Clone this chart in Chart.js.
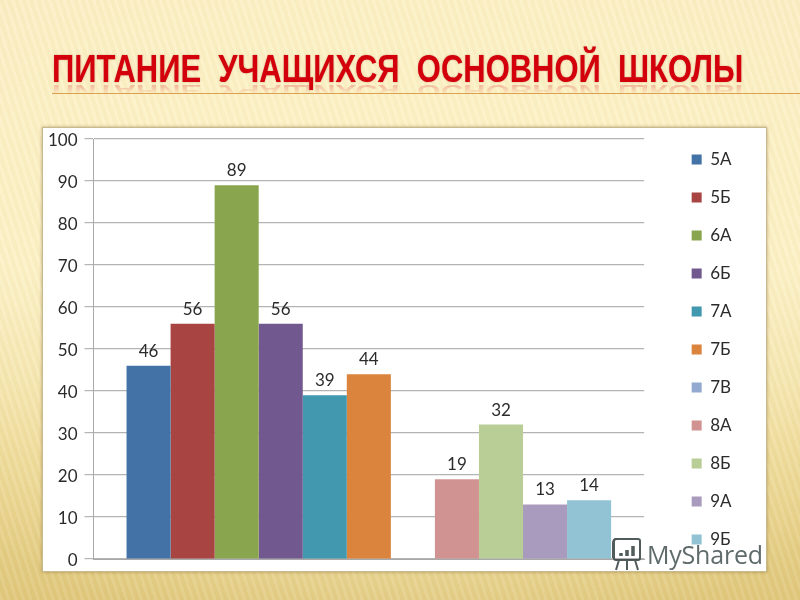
<!DOCTYPE html>
<html><head><meta charset="utf-8">
<style>
html,body{margin:0;padding:0;width:800px;height:600px;overflow:hidden}
body{position:relative;font-family:"Liberation Sans",sans-serif;
background:
 repeating-linear-gradient(72deg,rgba(255,255,255,.08) 0 3px,rgba(150,110,20,.03) 3px 7px),
 radial-gradient(ellipse 620px 420px at 400px 230px,rgba(253,243,200,.7) 40%,rgba(253,243,200,0) 100%),
 linear-gradient(180deg,#fbeec4 0,#fbf0c6 45%,#ecd792 75%,#e0c87d 100%);}
#panel{position:absolute;left:42px;top:127px;width:725px;height:445px;background:#fff;border:1px solid #c9b98f;box-sizing:border-box;box-shadow:0 0 3px rgba(120,90,30,.5)}
#rule{position:absolute;left:52px;top:93px;width:748px;height:1px;background:#dca24e}
.t{position:absolute;left:52px;top:46px;font-size:39px;line-height:45px;font-weight:bold;color:#d3000c;white-space:pre;transform-origin:0 0;transform:scaleX(.794);text-shadow:0 0 2px rgba(120,0,0,.35)}
#refl{opacity:.25;transform:scale(.794,-.42);transform-origin:0 38px;-webkit-mask-image:linear-gradient(0deg,#000 15%,transparent 70%);text-shadow:none}
canvas{position:absolute;left:0;top:0}
#wm{position:absolute;left:611px;top:536px;display:flex;align-items:center;color:#4e5a5a;font-family:"Open Sans",sans-serif;font-size:25px;line-height:36px;letter-spacing:-.2px;opacity:.9}
</style></head><body>
<div id="rule"></div>
<div class="t" id="title">ПИТАНИЕ  УЧАЩИХСЯ  ОСНОВНОЙ  ШКОЛЫ</div>
<div class="t" id="refl" aria-hidden="true">ПИТАНИЕ  УЧАЩИХСЯ  ОСНОВНОЙ  ШКОЛЫ</div>
<div id="panel"></div>
<canvas id="c" width="800" height="600"></canvas>
<div id="wm"><svg width="30" height="36" viewBox="0 0 30 36" fill="none" stroke="#3f4a4a" stroke-width="2"><rect x="3" y="3" width="26" height="21" rx="2"/><path d="M2 22V7q0-4 4-4M8 24l-3 10M16 24v10M24 24l3 10"/><path d="M10 20v-3M16 20v-6M22 20v-10" stroke-width="3.5"/></svg><span style="margin-left:6px">MyShared</span></div>
<script src="https://cdn.jsdelivr.net/npm/chart.js@4/dist/chart.umd.min.js"></script>
<script>
const categories=[''];
const seriesNames=['5А','5Б','6А','6Б','7А','7Б','7В','8А','8Б','9А','9Б'];
const seriesValues=[46,56,89,56,39,44,null,19,32,13,14];
const seriesColors=['#4373a6','#a84442','#89a54e','#71588f','#4198af','#db843d','#93a9cf','#d19392','#b9cd96','#a99bbd','#92c3d4'];
const yTicks=[0,10,20,30,40,50,60,70,80,90,100];
const FONT='Lato,"Open Sans",sans-serif';
const TXT='#2b2b2b';
const valueLabels={id:'valueLabels',afterDatasetsDraw(ch){
  const x=ch.ctx;x.save();x.font='17px '+FONT;x.fillStyle=TXT;x.textAlign='center';x.textBaseline='bottom';
  ch.data.datasets.forEach((d,i)=>{const v=d.data[0];if(v==null)return;const b=ch.getDatasetMeta(i).data[0];x.fillText(String(v),b.x,b.y-6);});
  x.restore();}};
const hidden={grid:{display:false},border:{display:false},ticks:{display:false}};
new Chart(document.getElementById('c'),{
 type:'bar',
 data:{labels:categories,datasets:seriesNames.map((n,i)=>({label:n,data:[seriesValues[i]],xAxisID:'x',yAxisID:'y',backgroundColor:seriesColors[i],borderWidth:0,categoryPercentage:.88,barPercentage:1}))},
 options:{responsive:false,animation:false,devicePixelRatio:1,
  layout:{padding:{left:42.5,top:129,right:58.5,bottom:30}},
  plugins:{title:{display:false},tooltip:{enabled:false},
   legend:{position:'right',labels:{boxWidth:10,boxHeight:10,padding:21,color:TXT,font:{family:FONT,size:17},generateLabels(ch){return seriesNames.map((n,i)=>({text:n,fillStyle:seriesColors[i],strokeStyle:seriesColors[i],lineWidth:0,datasetIndex:i,fontColor:TXT}));}}}},
  scales:{
   x:{grid:{display:false},border:{color:'#a8a8a8',width:1},ticks:{display:false},afterFit(a){a.height=11;}},
   y:{min:0,max:100,afterBuildTicks(a){a.ticks=yTicks.map(v=>({value:v}));},afterFit(a){a.width=51;},
      grid:{color:'#b4b4b4',lineWidth:1.2,tickLength:9},border:{color:'#a8a8a8',width:1},
      ticks:{color:TXT,font:{family:FONT,size:17},padding:7,labelOffset:2}},
   xTop:{type:'category',position:'top',...hidden,afterFit(a){a.height=10;}},
   yRight:{type:'linear',position:'right',...hidden,afterFit(a){a.width=26.5;}}
  }},
 plugins:[valueLabels]});
</script></body></html>
